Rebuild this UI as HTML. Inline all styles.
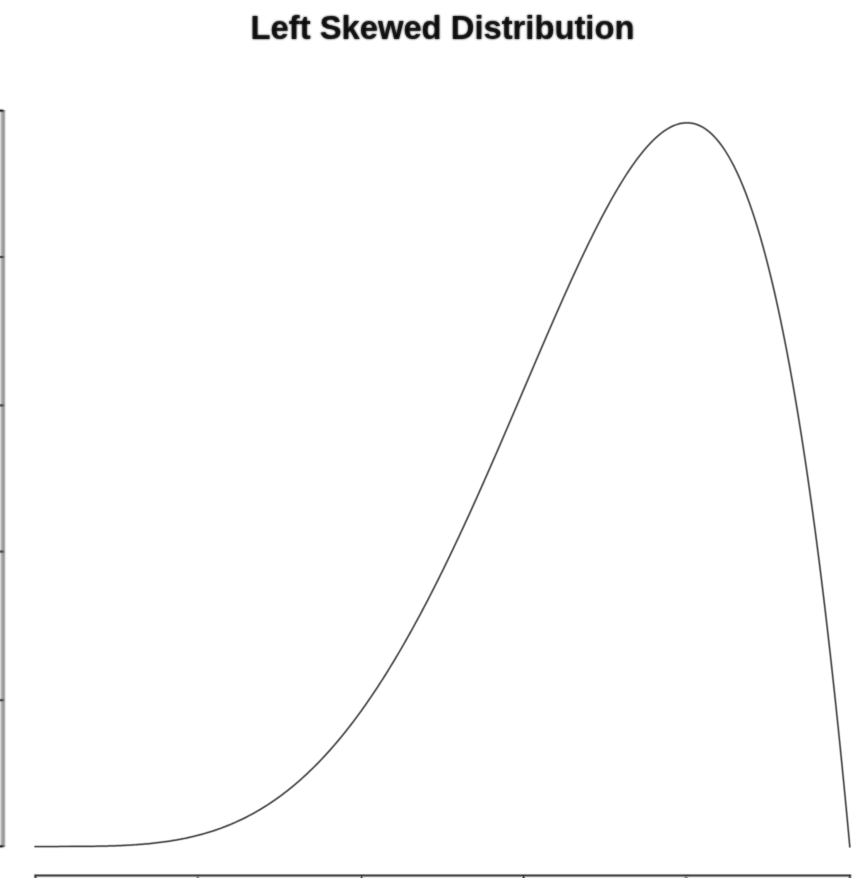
<!DOCTYPE html>
<html><head><meta charset="utf-8"><style>
html,body{margin:0;padding:0;background:#fff;}
body{width:859px;height:878px;overflow:hidden;position:relative;font-family:"Liberation Sans",sans-serif;}
.t{position:absolute;left:12.7px;width:859px;top:9.3px;text-align:center;font-weight:bold;font-size:32.75px;line-height:37px;color:#0c0c0c;will-change:transform;white-space:nowrap;letter-spacing:0px;transform:scaleY(1.015);transform-origin:50% 30.2px;}
#t1{filter:blur(0.8px);}
#t2{opacity:0.7;}
svg{position:absolute;left:0;top:0;}
</style></head><body>
<div class="t" id="t1"><span id="ts">Left Skewed Distribution</span></div>
<div class="t" id="t2">Left Skewed Distribution</div>
<svg width="859" height="878" viewBox="0 0 859 878">
<defs>
<linearGradient id="tg" x1="0" y1="0" x2="0" y2="1">
<stop offset="0" stop-color="#000" stop-opacity="0"/>
<stop offset="0.2" stop-color="#000" stop-opacity="0.22"/>
<stop offset="0.4" stop-color="#000" stop-opacity="1"/>
<stop offset="0.6" stop-color="#000" stop-opacity="1"/>
<stop offset="0.8" stop-color="#000" stop-opacity="0.22"/>
<stop offset="1" stop-color="#000" stop-opacity="0"/>
</linearGradient>
</defs>
<rect x="0" y="110.0" width="1" height="737.0" fill="#d9d9d9"/>
<rect x="1" y="110.0" width="1" height="737.0" fill="#b1b1b1"/>
<rect x="2" y="110.0" width="1" height="737.0" fill="#a4a4a4"/>
<rect x="3" y="110.0" width="1" height="737.0" fill="#989898"/>
<rect x="4" y="110.0" width="1" height="737.0" fill="#b4b4b4"/>
<rect x="5" y="110.0" width="1" height="737.0" fill="#e4e4e4"/>
<rect x="6" y="110.0" width="1" height="737.0" fill="#fcfcfc"/>
<rect x="0" y="843.90" width="1" height="5" fill="url(#tg)" opacity="0.780"/>
<rect x="1" y="843.90" width="1" height="5" fill="url(#tg)" opacity="0.767"/>
<rect x="2" y="843.90" width="1" height="5" fill="url(#tg)" opacity="0.598"/>
<rect x="3" y="843.90" width="1" height="5" fill="url(#tg)" opacity="0.377"/>
<rect x="4" y="843.90" width="1" height="5" fill="url(#tg)" opacity="0.104"/>
<rect x="5" y="843.90" width="1" height="5" fill="url(#tg)" opacity="0.026"/>
<rect x="0" y="697.70" width="1" height="5" fill="url(#tg)" opacity="0.600"/>
<rect x="1" y="697.70" width="1" height="5" fill="url(#tg)" opacity="0.590"/>
<rect x="2" y="697.70" width="1" height="5" fill="url(#tg)" opacity="0.460"/>
<rect x="3" y="697.70" width="1" height="5" fill="url(#tg)" opacity="0.290"/>
<rect x="4" y="697.70" width="1" height="5" fill="url(#tg)" opacity="0.080"/>
<rect x="5" y="697.70" width="1" height="5" fill="url(#tg)" opacity="0.020"/>
<rect x="0" y="549.10" width="1" height="5" fill="url(#tg)" opacity="0.600"/>
<rect x="1" y="549.10" width="1" height="5" fill="url(#tg)" opacity="0.590"/>
<rect x="2" y="549.10" width="1" height="5" fill="url(#tg)" opacity="0.460"/>
<rect x="3" y="549.10" width="1" height="5" fill="url(#tg)" opacity="0.290"/>
<rect x="4" y="549.10" width="1" height="5" fill="url(#tg)" opacity="0.080"/>
<rect x="5" y="549.10" width="1" height="5" fill="url(#tg)" opacity="0.020"/>
<rect x="0" y="402.90" width="1" height="5" fill="url(#tg)" opacity="0.600"/>
<rect x="1" y="402.90" width="1" height="5" fill="url(#tg)" opacity="0.590"/>
<rect x="2" y="402.90" width="1" height="5" fill="url(#tg)" opacity="0.460"/>
<rect x="3" y="402.90" width="1" height="5" fill="url(#tg)" opacity="0.290"/>
<rect x="4" y="402.90" width="1" height="5" fill="url(#tg)" opacity="0.080"/>
<rect x="5" y="402.90" width="1" height="5" fill="url(#tg)" opacity="0.020"/>
<rect x="0" y="254.50" width="1" height="5" fill="url(#tg)" opacity="0.600"/>
<rect x="1" y="254.50" width="1" height="5" fill="url(#tg)" opacity="0.590"/>
<rect x="2" y="254.50" width="1" height="5" fill="url(#tg)" opacity="0.460"/>
<rect x="3" y="254.50" width="1" height="5" fill="url(#tg)" opacity="0.290"/>
<rect x="4" y="254.50" width="1" height="5" fill="url(#tg)" opacity="0.080"/>
<rect x="5" y="254.50" width="1" height="5" fill="url(#tg)" opacity="0.020"/>
<rect x="0" y="108.10" width="1" height="5" fill="url(#tg)" opacity="0.780"/>
<rect x="1" y="108.10" width="1" height="5" fill="url(#tg)" opacity="0.767"/>
<rect x="2" y="108.10" width="1" height="5" fill="url(#tg)" opacity="0.598"/>
<rect x="3" y="108.10" width="1" height="5" fill="url(#tg)" opacity="0.377"/>
<rect x="4" y="108.10" width="1" height="5" fill="url(#tg)" opacity="0.104"/>
<rect x="5" y="108.10" width="1" height="5" fill="url(#tg)" opacity="0.026"/>
<g shape-rendering="crispEdges">
<rect x="38" y="873" width="157" height="1" fill="#f5f5f5"/>
<rect x="201" y="873" width="158" height="1" fill="#f5f5f5"/>
<rect x="364" y="873" width="157" height="1" fill="#f5f5f5"/>
<rect x="526" y="873" width="157" height="1" fill="#f5f5f5"/>
<rect x="689" y="873" width="158" height="1" fill="#f5f5f5"/>
<rect x="38" y="874" width="157" height="1" fill="#949494"/>
<rect x="201" y="874" width="158" height="1" fill="#949494"/>
<rect x="364" y="874" width="157" height="1" fill="#949494"/>
<rect x="526" y="874" width="157" height="1" fill="#949494"/>
<rect x="689" y="874" width="158" height="1" fill="#949494"/>
<rect x="38" y="875" width="157" height="1" fill="#474747"/>
<rect x="201" y="875" width="158" height="1" fill="#474747"/>
<rect x="364" y="875" width="157" height="1" fill="#474747"/>
<rect x="526" y="875" width="157" height="1" fill="#474747"/>
<rect x="689" y="875" width="158" height="1" fill="#474747"/>
<rect x="38" y="876" width="157" height="1" fill="#919191"/>
<rect x="201" y="876" width="158" height="1" fill="#919191"/>
<rect x="364" y="876" width="157" height="1" fill="#919191"/>
<rect x="526" y="876" width="157" height="1" fill="#919191"/>
<rect x="689" y="876" width="158" height="1" fill="#919191"/>
<rect x="38" y="877" width="157" height="1" fill="#e6e6e6"/>
<rect x="201" y="877" width="158" height="1" fill="#e6e6e6"/>
<rect x="364" y="877" width="157" height="1" fill="#e6e6e6"/>
<rect x="526" y="877" width="157" height="1" fill="#e6e6e6"/>
<rect x="689" y="877" width="158" height="1" fill="#e6e6e6"/>
<rect x="33" y="874" width="1" height="1" fill="#f1f1f1"/>
<rect x="33" y="875" width="1" height="1" fill="#e6e6e6"/>
<rect x="33" y="876" width="1" height="1" fill="#e7e7e7"/>
<rect x="33" y="877" width="1" height="1" fill="#e8e8e8"/>
<rect x="34" y="873" width="1" height="1" fill="#f9f9f9"/>
<rect x="34" y="874" width="1" height="1" fill="#bcbcbc"/>
<rect x="34" y="875" width="1" height="1" fill="#898989"/>
<rect x="34" y="876" width="1" height="1" fill="#8b8b8b"/>
<rect x="34" y="877" width="1" height="1" fill="#909090"/>
<rect x="35" y="873" width="1" height="1" fill="#f5f5f5"/>
<rect x="35" y="874" width="1" height="1" fill="#8f8f8f"/>
<rect x="35" y="875" width="1" height="1" fill="#393939"/>
<rect x="35" y="876" width="1" height="1" fill="#3c3c3c"/>
<rect x="35" y="877" width="1" height="1" fill="#454545"/>
<rect x="36" y="873" width="1" height="1" fill="#f5f5f5"/>
<rect x="36" y="874" width="1" height="1" fill="#919191"/>
<rect x="36" y="875" width="1" height="1" fill="#3e3e3e"/>
<rect x="36" y="876" width="1" height="1" fill="#7c7c7c"/>
<rect x="36" y="877" width="1" height="1" fill="#858585"/>
<rect x="37" y="873" width="1" height="1" fill="#f5f5f5"/>
<rect x="37" y="874" width="1" height="1" fill="#939393"/>
<rect x="37" y="875" width="1" height="1" fill="#444444"/>
<rect x="37" y="876" width="1" height="1" fill="#8e8e8e"/>
<rect x="37" y="877" width="1" height="1" fill="#d6d6d6"/>
<rect x="195" y="873" width="1" height="1" fill="#f5f5f5"/>
<rect x="195" y="874" width="1" height="1" fill="#949494"/>
<rect x="195" y="875" width="1" height="1" fill="#464646"/>
<rect x="195" y="876" width="1" height="1" fill="#909090"/>
<rect x="195" y="877" width="1" height="1" fill="#e4e4e4"/>
<rect x="196" y="873" width="1" height="1" fill="#f5f5f5"/>
<rect x="196" y="874" width="1" height="1" fill="#929292"/>
<rect x="196" y="875" width="1" height="1" fill="#424242"/>
<rect x="196" y="876" width="1" height="1" fill="#8a8a8a"/>
<rect x="196" y="877" width="1" height="1" fill="#b8b8b8"/>
<rect x="197" y="873" width="1" height="1" fill="#f5f5f5"/>
<rect x="197" y="874" width="1" height="1" fill="#919191"/>
<rect x="197" y="875" width="1" height="1" fill="#3d3d3d"/>
<rect x="197" y="876" width="1" height="1" fill="#6d6d6d"/>
<rect x="197" y="877" width="1" height="1" fill="#757575"/>
<rect x="198" y="873" width="1" height="1" fill="#f5f5f5"/>
<rect x="198" y="874" width="1" height="1" fill="#919191"/>
<rect x="198" y="875" width="1" height="1" fill="#3f3f3f"/>
<rect x="198" y="876" width="1" height="1" fill="#878787"/>
<rect x="198" y="877" width="1" height="1" fill="#969696"/>
<rect x="199" y="873" width="1" height="1" fill="#f5f5f5"/>
<rect x="199" y="874" width="1" height="1" fill="#939393"/>
<rect x="199" y="875" width="1" height="1" fill="#434343"/>
<rect x="199" y="876" width="1" height="1" fill="#8c8c8c"/>
<rect x="199" y="877" width="1" height="1" fill="#c9c9c9"/>
<rect x="200" y="873" width="1" height="1" fill="#f5f5f5"/>
<rect x="200" y="874" width="1" height="1" fill="#949494"/>
<rect x="200" y="875" width="1" height="1" fill="#464646"/>
<rect x="200" y="876" width="1" height="1" fill="#909090"/>
<rect x="200" y="877" width="1" height="1" fill="#e4e4e4"/>
<rect x="359" y="873" width="1" height="1" fill="#f5f5f5"/>
<rect x="359" y="874" width="1" height="1" fill="#949494"/>
<rect x="359" y="875" width="1" height="1" fill="#464646"/>
<rect x="359" y="876" width="1" height="1" fill="#909090"/>
<rect x="359" y="877" width="1" height="1" fill="#e4e4e4"/>
<rect x="360" y="873" width="1" height="1" fill="#f5f5f5"/>
<rect x="360" y="874" width="1" height="1" fill="#929292"/>
<rect x="360" y="875" width="1" height="1" fill="#404040"/>
<rect x="360" y="876" width="1" height="1" fill="#888888"/>
<rect x="360" y="877" width="1" height="1" fill="#a3a3a3"/>
<rect x="361" y="873" width="1" height="1" fill="#f5f5f5"/>
<rect x="361" y="874" width="1" height="1" fill="#909090"/>
<rect x="361" y="875" width="1" height="1" fill="#393939"/>
<rect x="361" y="876" width="1" height="1" fill="#444444"/>
<rect x="361" y="877" width="1" height="1" fill="#4d4d4d"/>
<rect x="362" y="873" width="1" height="1" fill="#f5f5f5"/>
<rect x="362" y="874" width="1" height="1" fill="#919191"/>
<rect x="362" y="875" width="1" height="1" fill="#3e3e3e"/>
<rect x="362" y="876" width="1" height="1" fill="#818181"/>
<rect x="362" y="877" width="1" height="1" fill="#8a8a8a"/>
<rect x="363" y="873" width="1" height="1" fill="#f5f5f5"/>
<rect x="363" y="874" width="1" height="1" fill="#939393"/>
<rect x="363" y="875" width="1" height="1" fill="#454545"/>
<rect x="363" y="876" width="1" height="1" fill="#8e8e8e"/>
<rect x="363" y="877" width="1" height="1" fill="#dedede"/>
<rect x="521" y="873" width="1" height="1" fill="#f5f5f5"/>
<rect x="521" y="874" width="1" height="1" fill="#939393"/>
<rect x="521" y="875" width="1" height="1" fill="#464646"/>
<rect x="521" y="876" width="1" height="1" fill="#8f8f8f"/>
<rect x="521" y="877" width="1" height="1" fill="#e3e3e3"/>
<rect x="522" y="873" width="1" height="1" fill="#f5f5f5"/>
<rect x="522" y="874" width="1" height="1" fill="#919191"/>
<rect x="522" y="875" width="1" height="1" fill="#3f3f3f"/>
<rect x="522" y="876" width="1" height="1" fill="#878787"/>
<rect x="522" y="877" width="1" height="1" fill="#919191"/>
<rect x="523" y="873" width="1" height="1" fill="#f5f5f5"/>
<rect x="523" y="874" width="1" height="1" fill="#8f8f8f"/>
<rect x="523" y="875" width="1" height="1" fill="#383838"/>
<rect x="523" y="876" width="1" height="1" fill="#333333"/>
<rect x="523" y="877" width="1" height="1" fill="#383838"/>
<rect x="524" y="873" width="1" height="1" fill="#f5f5f5"/>
<rect x="524" y="874" width="1" height="1" fill="#919191"/>
<rect x="524" y="875" width="1" height="1" fill="#3d3d3d"/>
<rect x="524" y="876" width="1" height="1" fill="#757575"/>
<rect x="524" y="877" width="1" height="1" fill="#7d7d7d"/>
<rect x="525" y="873" width="1" height="1" fill="#f5f5f5"/>
<rect x="525" y="874" width="1" height="1" fill="#939393"/>
<rect x="525" y="875" width="1" height="1" fill="#454545"/>
<rect x="525" y="876" width="1" height="1" fill="#8e8e8e"/>
<rect x="525" y="877" width="1" height="1" fill="#d9d9d9"/>
<rect x="683" y="873" width="1" height="1" fill="#f5f5f5"/>
<rect x="683" y="874" width="1" height="1" fill="#949494"/>
<rect x="683" y="875" width="1" height="1" fill="#464646"/>
<rect x="683" y="876" width="1" height="1" fill="#909090"/>
<rect x="683" y="877" width="1" height="1" fill="#e4e4e4"/>
<rect x="684" y="873" width="1" height="1" fill="#f5f5f5"/>
<rect x="684" y="874" width="1" height="1" fill="#929292"/>
<rect x="684" y="875" width="1" height="1" fill="#414141"/>
<rect x="684" y="876" width="1" height="1" fill="#898989"/>
<rect x="684" y="877" width="1" height="1" fill="#adadad"/>
<rect x="685" y="873" width="1" height="1" fill="#f5f5f5"/>
<rect x="685" y="874" width="1" height="1" fill="#919191"/>
<rect x="685" y="875" width="1" height="1" fill="#3e3e3e"/>
<rect x="685" y="876" width="1" height="1" fill="#7a7a7a"/>
<rect x="685" y="877" width="1" height="1" fill="#828282"/>
<rect x="686" y="873" width="1" height="1" fill="#f5f5f5"/>
<rect x="686" y="874" width="1" height="1" fill="#919191"/>
<rect x="686" y="875" width="1" height="1" fill="#3e3e3e"/>
<rect x="686" y="876" width="1" height="1" fill="#818181"/>
<rect x="686" y="877" width="1" height="1" fill="#8a8a8a"/>
<rect x="687" y="873" width="1" height="1" fill="#f5f5f5"/>
<rect x="687" y="874" width="1" height="1" fill="#929292"/>
<rect x="687" y="875" width="1" height="1" fill="#404040"/>
<rect x="687" y="876" width="1" height="1" fill="#898989"/>
<rect x="687" y="877" width="1" height="1" fill="#a6a6a6"/>
<rect x="688" y="873" width="1" height="1" fill="#f5f5f5"/>
<rect x="688" y="874" width="1" height="1" fill="#939393"/>
<rect x="688" y="875" width="1" height="1" fill="#444444"/>
<rect x="688" y="876" width="1" height="1" fill="#8e8e8e"/>
<rect x="688" y="877" width="1" height="1" fill="#d6d6d6"/>
<rect x="847" y="873" width="1" height="1" fill="#f5f5f5"/>
<rect x="847" y="874" width="1" height="1" fill="#939393"/>
<rect x="847" y="875" width="1" height="1" fill="#464646"/>
<rect x="847" y="876" width="1" height="1" fill="#8f8f8f"/>
<rect x="847" y="877" width="1" height="1" fill="#e3e3e3"/>
<rect x="848" y="873" width="1" height="1" fill="#f5f5f5"/>
<rect x="848" y="874" width="1" height="1" fill="#929292"/>
<rect x="848" y="875" width="1" height="1" fill="#414141"/>
<rect x="848" y="876" width="1" height="1" fill="#898989"/>
<rect x="848" y="877" width="1" height="1" fill="#a8a8a8"/>
<rect x="849" y="873" width="1" height="1" fill="#f5f5f5"/>
<rect x="849" y="874" width="1" height="1" fill="#909090"/>
<rect x="849" y="875" width="1" height="1" fill="#3a3a3a"/>
<rect x="849" y="876" width="1" height="1" fill="#4e4e4e"/>
<rect x="849" y="877" width="1" height="1" fill="#575757"/>
<rect x="850" y="873" width="1" height="1" fill="#f6f6f6"/>
<rect x="850" y="874" width="1" height="1" fill="#9f9f9f"/>
<rect x="850" y="875" width="1" height="1" fill="#555555"/>
<rect x="850" y="876" width="1" height="1" fill="#676767"/>
<rect x="850" y="877" width="1" height="1" fill="#6e6e6e"/>
<rect x="851" y="874" width="1" height="1" fill="#dedede"/>
<rect x="851" y="875" width="1" height="1" fill="#c5c5c5"/>
<rect x="851" y="876" width="1" height="1" fill="#cbcbcb"/>
<rect x="851" y="877" width="1" height="1" fill="#cecece"/>
<rect x="852" y="874" width="1" height="1" fill="#fafafa"/>
<rect x="852" y="875" width="1" height="1" fill="#f6f6f6"/>
<rect x="852" y="876" width="1" height="1" fill="#f7f7f7"/>
<rect x="852" y="877" width="1" height="1" fill="#f7f7f7"/>
</g>
<path d="M34.40,846.50 L35.60,846.50 L37.64,846.50 L39.67,846.50 L41.71,846.50 L43.74,846.50 L45.78,846.50 L47.81,846.50 L49.85,846.50 L51.88,846.50 L53.92,846.50 L55.95,846.50 L57.99,846.50 L60.03,846.49 L62.06,846.49 L64.10,846.49 L66.13,846.48 L68.17,846.48 L70.20,846.47 L72.24,846.47 L74.27,846.46 L76.31,846.45 L78.35,846.44 L80.38,846.42 L82.42,846.41 L84.45,846.39 L86.49,846.37 L88.52,846.35 L90.56,846.33 L92.59,846.30 L94.63,846.27 L96.66,846.24 L98.70,846.21 L100.74,846.17 L102.77,846.12 L104.81,846.08 L106.84,846.03 L108.88,845.97 L110.91,845.91 L112.95,845.85 L114.98,845.78 L117.02,845.70 L119.06,845.62 L121.09,845.54 L123.13,845.45 L125.16,845.35 L127.20,845.24 L129.23,845.13 L131.27,845.01 L133.30,844.89 L135.34,844.75 L137.38,844.61 L139.41,844.46 L141.45,844.30 L143.48,844.14 L145.52,843.96 L147.55,843.78 L149.59,843.58 L151.62,843.38 L153.66,843.16 L155.69,842.94 L157.73,842.70 L159.77,842.45 L161.80,842.19 L163.84,841.92 L165.87,841.64 L167.91,841.34 L169.94,841.03 L171.98,840.71 L174.01,840.38 L176.05,840.03 L178.08,839.66 L180.12,839.29 L182.16,838.90 L184.19,838.49 L186.23,838.07 L188.26,837.63 L190.30,837.17 L192.33,836.70 L194.37,836.22 L196.40,835.71 L198.44,835.19 L200.48,834.65 L202.51,834.10 L204.55,833.52 L206.58,832.93 L208.62,832.31 L210.65,831.68 L212.69,831.03 L214.72,830.36 L216.76,829.67 L218.79,828.95 L220.83,828.22 L222.87,827.46 L224.90,826.69 L226.94,825.89 L228.97,825.07 L231.01,824.22 L233.04,823.36 L235.08,822.47 L237.11,821.55 L239.15,820.62 L241.19,819.66 L243.22,818.67 L245.26,817.66 L247.29,816.63 L249.33,815.56 L251.36,814.48 L253.40,813.37 L255.43,812.23 L257.47,811.06 L259.50,809.87 L261.54,808.65 L263.58,807.40 L265.61,806.13 L267.65,804.83 L269.68,803.50 L271.72,802.14 L273.75,800.75 L275.79,799.33 L277.82,797.88 L279.86,796.41 L281.90,794.90 L283.93,793.37 L285.97,791.80 L288.00,790.20 L290.04,788.58 L292.07,786.92 L294.11,785.23 L296.14,783.51 L298.18,781.76 L300.22,779.97 L302.25,778.15 L304.29,776.30 L306.32,774.42 L308.36,772.51 L310.39,770.56 L312.43,768.58 L314.46,766.57 L316.50,764.52 L318.53,762.44 L320.57,760.33 L322.61,758.18 L324.64,756.00 L326.68,753.78 L328.71,751.53 L330.75,749.25 L332.78,746.93 L334.82,744.58 L336.85,742.19 L338.89,739.77 L340.93,737.31 L342.96,734.82 L345.00,732.29 L347.03,729.73 L349.07,727.13 L351.10,724.50 L353.14,721.83 L355.17,719.13 L357.21,716.39 L359.24,713.61 L361.28,710.80 L363.32,707.96 L365.35,705.08 L367.39,702.16 L369.42,699.21 L371.46,696.23 L373.49,693.21 L375.53,690.15 L377.56,687.06 L379.60,683.93 L381.63,680.77 L383.67,677.57 L385.71,674.34 L387.74,671.08 L389.78,667.78 L391.81,664.44 L393.85,661.07 L395.88,657.67 L397.92,654.23 L399.95,650.76 L401.99,647.25 L404.03,643.72 L406.06,640.14 L408.10,636.54 L410.13,632.90 L412.17,629.23 L414.20,625.53 L416.24,621.79 L418.27,618.02 L420.31,614.22 L422.34,610.39 L424.38,606.53 L426.42,602.64 L428.45,598.71 L430.49,594.76 L432.52,590.78 L434.56,586.76 L436.59,582.72 L438.63,578.65 L440.66,574.55 L442.70,570.42 L444.74,566.27 L446.77,562.09 L448.81,557.88 L450.84,553.64 L452.88,549.38 L454.91,545.10 L456.95,540.79 L458.98,536.45 L461.02,532.09 L463.06,527.71 L465.09,523.30 L467.13,518.87 L469.16,514.42 L471.20,509.95 L473.23,505.46 L475.27,500.95 L477.30,496.42 L479.34,491.87 L481.37,487.30 L483.41,482.72 L485.45,478.12 L487.48,473.50 L489.52,468.87 L491.55,464.22 L493.59,459.56 L495.62,454.88 L497.66,450.20 L499.69,445.50 L501.73,440.79 L503.76,436.07 L505.80,431.34 L507.84,426.61 L509.87,421.86 L511.91,417.11 L513.94,412.36 L515.98,407.60 L518.01,402.83 L520.05,398.06 L522.08,393.30 L524.12,388.52 L526.16,383.75 L528.19,378.98 L530.23,374.22 L532.26,369.45 L534.30,364.69 L536.33,359.94 L538.37,355.19 L540.40,350.45 L542.44,345.71 L544.47,340.99 L546.51,336.28 L548.55,331.58 L550.58,326.89 L552.62,322.22 L554.65,317.56 L556.69,312.92 L558.72,308.30 L560.76,303.69 L562.79,299.11 L564.83,294.55 L566.87,290.01 L568.90,285.50 L570.94,281.02 L572.97,276.56 L575.01,272.13 L577.04,267.73 L579.08,263.36 L581.11,259.02 L583.15,254.72 L585.19,250.46 L587.22,246.23 L589.26,242.05 L591.29,237.90 L593.33,233.80 L595.36,229.74 L597.40,225.72 L599.43,221.76 L601.47,217.84 L603.50,213.97 L605.54,210.16 L607.58,206.40 L609.61,202.69 L611.65,199.05 L613.68,195.46 L615.72,191.93 L617.75,188.47 L619.79,185.07 L621.82,181.74 L623.86,178.48 L625.89,175.28 L627.93,172.17 L629.97,169.12 L632.00,166.15 L634.04,163.26 L636.07,160.45 L638.11,157.73 L640.14,155.08 L642.18,152.53 L644.21,150.06 L646.25,147.69 L648.29,145.40 L650.32,143.22 L652.36,141.13 L654.39,139.14 L656.43,137.25 L658.46,135.47 L660.50,133.79 L662.53,132.22 L664.57,130.76 L666.61,129.42 L668.64,128.20 L670.68,127.09 L672.71,126.10 L674.75,125.24 L676.78,124.50 L678.82,123.89 L680.85,123.41 L682.89,123.07 L684.92,122.86 L686.96,122.79 L689.00,122.86 L691.03,123.07 L693.07,123.43 L695.10,123.95 L697.14,124.61 L699.17,125.43 L701.21,126.40 L703.24,127.54 L705.28,128.84 L707.31,130.31 L709.35,131.94 L711.39,133.75 L713.42,135.73 L715.46,137.89 L717.49,140.23 L719.53,142.76 L721.56,145.47 L723.60,148.37 L725.63,151.47 L727.67,154.76 L729.71,158.25 L731.74,161.94 L733.78,165.84 L735.81,169.95 L737.85,174.27 L739.88,178.81 L741.92,183.57 L743.95,188.54 L745.99,193.75 L748.02,199.18 L750.06,204.84 L752.10,210.75 L754.13,216.89 L756.17,223.27 L758.20,229.90 L760.24,236.78 L762.27,243.91 L764.31,251.31 L766.34,258.96 L768.38,266.88 L770.42,275.06 L772.45,283.52 L774.49,292.25 L776.52,301.26 L778.56,310.56 L780.59,320.14 L782.63,330.02 L784.66,340.19 L786.70,350.66 L788.74,361.43 L790.77,372.51 L792.81,383.90 L794.84,395.60 L796.88,407.63 L798.91,419.98 L800.95,432.65 L802.98,445.66 L805.02,459.00 L807.05,472.69 L809.09,486.72 L811.13,501.09 L813.16,515.82 L815.20,530.91 L817.23,546.36 L819.27,562.18 L821.30,578.36 L823.34,594.93 L825.37,611.87 L827.41,629.20 L829.44,646.91 L831.48,665.02 L833.52,683.53 L835.55,702.44 L837.59,721.76 L839.62,741.49 L841.66,761.64 L843.69,782.21 L845.73,803.20 L847.76,824.63 L849.80,846.50 L849.95,847.50" fill="none" stroke="#000" stroke-opacity="0.09" stroke-width="3.3" stroke-linejoin="round" stroke-linecap="butt"/>
<path d="M34.40,846.50 L35.60,846.50 L37.64,846.50 L39.67,846.50 L41.71,846.50 L43.74,846.50 L45.78,846.50 L47.81,846.50 L49.85,846.50 L51.88,846.50 L53.92,846.50 L55.95,846.50 L57.99,846.50 L60.03,846.49 L62.06,846.49 L64.10,846.49 L66.13,846.48 L68.17,846.48 L70.20,846.47 L72.24,846.47 L74.27,846.46 L76.31,846.45 L78.35,846.44 L80.38,846.42 L82.42,846.41 L84.45,846.39 L86.49,846.37 L88.52,846.35 L90.56,846.33 L92.59,846.30 L94.63,846.27 L96.66,846.24 L98.70,846.21 L100.74,846.17 L102.77,846.12 L104.81,846.08 L106.84,846.03 L108.88,845.97 L110.91,845.91 L112.95,845.85 L114.98,845.78 L117.02,845.70 L119.06,845.62 L121.09,845.54 L123.13,845.45 L125.16,845.35 L127.20,845.24 L129.23,845.13 L131.27,845.01 L133.30,844.89 L135.34,844.75 L137.38,844.61 L139.41,844.46 L141.45,844.30 L143.48,844.14 L145.52,843.96 L147.55,843.78 L149.59,843.58 L151.62,843.38 L153.66,843.16 L155.69,842.94 L157.73,842.70 L159.77,842.45 L161.80,842.19 L163.84,841.92 L165.87,841.64 L167.91,841.34 L169.94,841.03 L171.98,840.71 L174.01,840.38 L176.05,840.03 L178.08,839.66 L180.12,839.29 L182.16,838.90 L184.19,838.49 L186.23,838.07 L188.26,837.63 L190.30,837.17 L192.33,836.70 L194.37,836.22 L196.40,835.71 L198.44,835.19 L200.48,834.65 L202.51,834.10 L204.55,833.52 L206.58,832.93 L208.62,832.31 L210.65,831.68 L212.69,831.03 L214.72,830.36 L216.76,829.67 L218.79,828.95 L220.83,828.22 L222.87,827.46 L224.90,826.69 L226.94,825.89 L228.97,825.07 L231.01,824.22 L233.04,823.36 L235.08,822.47 L237.11,821.55 L239.15,820.62 L241.19,819.66 L243.22,818.67 L245.26,817.66 L247.29,816.63 L249.33,815.56 L251.36,814.48 L253.40,813.37 L255.43,812.23 L257.47,811.06 L259.50,809.87 L261.54,808.65 L263.58,807.40 L265.61,806.13 L267.65,804.83 L269.68,803.50 L271.72,802.14 L273.75,800.75 L275.79,799.33 L277.82,797.88 L279.86,796.41 L281.90,794.90 L283.93,793.37 L285.97,791.80 L288.00,790.20 L290.04,788.58 L292.07,786.92 L294.11,785.23 L296.14,783.51 L298.18,781.76 L300.22,779.97 L302.25,778.15 L304.29,776.30 L306.32,774.42 L308.36,772.51 L310.39,770.56 L312.43,768.58 L314.46,766.57 L316.50,764.52 L318.53,762.44 L320.57,760.33 L322.61,758.18 L324.64,756.00 L326.68,753.78 L328.71,751.53 L330.75,749.25 L332.78,746.93 L334.82,744.58 L336.85,742.19 L338.89,739.77 L340.93,737.31 L342.96,734.82 L345.00,732.29 L347.03,729.73 L349.07,727.13 L351.10,724.50 L353.14,721.83 L355.17,719.13 L357.21,716.39 L359.24,713.61 L361.28,710.80 L363.32,707.96 L365.35,705.08 L367.39,702.16 L369.42,699.21 L371.46,696.23 L373.49,693.21 L375.53,690.15 L377.56,687.06 L379.60,683.93 L381.63,680.77 L383.67,677.57 L385.71,674.34 L387.74,671.08 L389.78,667.78 L391.81,664.44 L393.85,661.07 L395.88,657.67 L397.92,654.23 L399.95,650.76 L401.99,647.25 L404.03,643.72 L406.06,640.14 L408.10,636.54 L410.13,632.90 L412.17,629.23 L414.20,625.53 L416.24,621.79 L418.27,618.02 L420.31,614.22 L422.34,610.39 L424.38,606.53 L426.42,602.64 L428.45,598.71 L430.49,594.76 L432.52,590.78 L434.56,586.76 L436.59,582.72 L438.63,578.65 L440.66,574.55 L442.70,570.42 L444.74,566.27 L446.77,562.09 L448.81,557.88 L450.84,553.64 L452.88,549.38 L454.91,545.10 L456.95,540.79 L458.98,536.45 L461.02,532.09 L463.06,527.71 L465.09,523.30 L467.13,518.87 L469.16,514.42 L471.20,509.95 L473.23,505.46 L475.27,500.95 L477.30,496.42 L479.34,491.87 L481.37,487.30 L483.41,482.72 L485.45,478.12 L487.48,473.50 L489.52,468.87 L491.55,464.22 L493.59,459.56 L495.62,454.88 L497.66,450.20 L499.69,445.50 L501.73,440.79 L503.76,436.07 L505.80,431.34 L507.84,426.61 L509.87,421.86 L511.91,417.11 L513.94,412.36 L515.98,407.60 L518.01,402.83 L520.05,398.06 L522.08,393.30 L524.12,388.52 L526.16,383.75 L528.19,378.98 L530.23,374.22 L532.26,369.45 L534.30,364.69 L536.33,359.94 L538.37,355.19 L540.40,350.45 L542.44,345.71 L544.47,340.99 L546.51,336.28 L548.55,331.58 L550.58,326.89 L552.62,322.22 L554.65,317.56 L556.69,312.92 L558.72,308.30 L560.76,303.69 L562.79,299.11 L564.83,294.55 L566.87,290.01 L568.90,285.50 L570.94,281.02 L572.97,276.56 L575.01,272.13 L577.04,267.73 L579.08,263.36 L581.11,259.02 L583.15,254.72 L585.19,250.46 L587.22,246.23 L589.26,242.05 L591.29,237.90 L593.33,233.80 L595.36,229.74 L597.40,225.72 L599.43,221.76 L601.47,217.84 L603.50,213.97 L605.54,210.16 L607.58,206.40 L609.61,202.69 L611.65,199.05 L613.68,195.46 L615.72,191.93 L617.75,188.47 L619.79,185.07 L621.82,181.74 L623.86,178.48 L625.89,175.28 L627.93,172.17 L629.97,169.12 L632.00,166.15 L634.04,163.26 L636.07,160.45 L638.11,157.73 L640.14,155.08 L642.18,152.53 L644.21,150.06 L646.25,147.69 L648.29,145.40 L650.32,143.22 L652.36,141.13 L654.39,139.14 L656.43,137.25 L658.46,135.47 L660.50,133.79 L662.53,132.22 L664.57,130.76 L666.61,129.42 L668.64,128.20 L670.68,127.09 L672.71,126.10 L674.75,125.24 L676.78,124.50 L678.82,123.89 L680.85,123.41 L682.89,123.07 L684.92,122.86 L686.96,122.79 L689.00,122.86 L691.03,123.07 L693.07,123.43 L695.10,123.95 L697.14,124.61 L699.17,125.43 L701.21,126.40 L703.24,127.54 L705.28,128.84 L707.31,130.31 L709.35,131.94 L711.39,133.75 L713.42,135.73 L715.46,137.89 L717.49,140.23 L719.53,142.76 L721.56,145.47 L723.60,148.37 L725.63,151.47 L727.67,154.76 L729.71,158.25 L731.74,161.94 L733.78,165.84 L735.81,169.95 L737.85,174.27 L739.88,178.81 L741.92,183.57 L743.95,188.54 L745.99,193.75 L748.02,199.18 L750.06,204.84 L752.10,210.75 L754.13,216.89 L756.17,223.27 L758.20,229.90 L760.24,236.78 L762.27,243.91 L764.31,251.31 L766.34,258.96 L768.38,266.88 L770.42,275.06 L772.45,283.52 L774.49,292.25 L776.52,301.26 L778.56,310.56 L780.59,320.14 L782.63,330.02 L784.66,340.19 L786.70,350.66 L788.74,361.43 L790.77,372.51 L792.81,383.90 L794.84,395.60 L796.88,407.63 L798.91,419.98 L800.95,432.65 L802.98,445.66 L805.02,459.00 L807.05,472.69 L809.09,486.72 L811.13,501.09 L813.16,515.82 L815.20,530.91 L817.23,546.36 L819.27,562.18 L821.30,578.36 L823.34,594.93 L825.37,611.87 L827.41,629.20 L829.44,646.91 L831.48,665.02 L833.52,683.53 L835.55,702.44 L837.59,721.76 L839.62,741.49 L841.66,761.64 L843.69,782.21 L845.73,803.20 L847.76,824.63 L849.80,846.50 L849.95,847.50" fill="none" stroke="#000" stroke-opacity="0.27" stroke-width="2.2" stroke-linejoin="round" stroke-linecap="butt"/>
<path d="M34.40,846.50 L35.60,846.50 L37.64,846.50 L39.67,846.50 L41.71,846.50 L43.74,846.50 L45.78,846.50 L47.81,846.50 L49.85,846.50 L51.88,846.50 L53.92,846.50 L55.95,846.50 L57.99,846.50 L60.03,846.49 L62.06,846.49 L64.10,846.49 L66.13,846.48 L68.17,846.48 L70.20,846.47 L72.24,846.47 L74.27,846.46 L76.31,846.45 L78.35,846.44 L80.38,846.42 L82.42,846.41 L84.45,846.39 L86.49,846.37 L88.52,846.35 L90.56,846.33 L92.59,846.30 L94.63,846.27 L96.66,846.24 L98.70,846.21 L100.74,846.17 L102.77,846.12 L104.81,846.08 L106.84,846.03 L108.88,845.97 L110.91,845.91 L112.95,845.85 L114.98,845.78 L117.02,845.70 L119.06,845.62 L121.09,845.54 L123.13,845.45 L125.16,845.35 L127.20,845.24 L129.23,845.13 L131.27,845.01 L133.30,844.89 L135.34,844.75 L137.38,844.61 L139.41,844.46 L141.45,844.30 L143.48,844.14 L145.52,843.96 L147.55,843.78 L149.59,843.58 L151.62,843.38 L153.66,843.16 L155.69,842.94 L157.73,842.70 L159.77,842.45 L161.80,842.19 L163.84,841.92 L165.87,841.64 L167.91,841.34 L169.94,841.03 L171.98,840.71 L174.01,840.38 L176.05,840.03 L178.08,839.66 L180.12,839.29 L182.16,838.90 L184.19,838.49 L186.23,838.07 L188.26,837.63 L190.30,837.17 L192.33,836.70 L194.37,836.22 L196.40,835.71 L198.44,835.19 L200.48,834.65 L202.51,834.10 L204.55,833.52 L206.58,832.93 L208.62,832.31 L210.65,831.68 L212.69,831.03 L214.72,830.36 L216.76,829.67 L218.79,828.95 L220.83,828.22 L222.87,827.46 L224.90,826.69 L226.94,825.89 L228.97,825.07 L231.01,824.22 L233.04,823.36 L235.08,822.47 L237.11,821.55 L239.15,820.62 L241.19,819.66 L243.22,818.67 L245.26,817.66 L247.29,816.63 L249.33,815.56 L251.36,814.48 L253.40,813.37 L255.43,812.23 L257.47,811.06 L259.50,809.87 L261.54,808.65 L263.58,807.40 L265.61,806.13 L267.65,804.83 L269.68,803.50 L271.72,802.14 L273.75,800.75 L275.79,799.33 L277.82,797.88 L279.86,796.41 L281.90,794.90 L283.93,793.37 L285.97,791.80 L288.00,790.20 L290.04,788.58 L292.07,786.92 L294.11,785.23 L296.14,783.51 L298.18,781.76 L300.22,779.97 L302.25,778.15 L304.29,776.30 L306.32,774.42 L308.36,772.51 L310.39,770.56 L312.43,768.58 L314.46,766.57 L316.50,764.52 L318.53,762.44 L320.57,760.33 L322.61,758.18 L324.64,756.00 L326.68,753.78 L328.71,751.53 L330.75,749.25 L332.78,746.93 L334.82,744.58 L336.85,742.19 L338.89,739.77 L340.93,737.31 L342.96,734.82 L345.00,732.29 L347.03,729.73 L349.07,727.13 L351.10,724.50 L353.14,721.83 L355.17,719.13 L357.21,716.39 L359.24,713.61 L361.28,710.80 L363.32,707.96 L365.35,705.08 L367.39,702.16 L369.42,699.21 L371.46,696.23 L373.49,693.21 L375.53,690.15 L377.56,687.06 L379.60,683.93 L381.63,680.77 L383.67,677.57 L385.71,674.34 L387.74,671.08 L389.78,667.78 L391.81,664.44 L393.85,661.07 L395.88,657.67 L397.92,654.23 L399.95,650.76 L401.99,647.25 L404.03,643.72 L406.06,640.14 L408.10,636.54 L410.13,632.90 L412.17,629.23 L414.20,625.53 L416.24,621.79 L418.27,618.02 L420.31,614.22 L422.34,610.39 L424.38,606.53 L426.42,602.64 L428.45,598.71 L430.49,594.76 L432.52,590.78 L434.56,586.76 L436.59,582.72 L438.63,578.65 L440.66,574.55 L442.70,570.42 L444.74,566.27 L446.77,562.09 L448.81,557.88 L450.84,553.64 L452.88,549.38 L454.91,545.10 L456.95,540.79 L458.98,536.45 L461.02,532.09 L463.06,527.71 L465.09,523.30 L467.13,518.87 L469.16,514.42 L471.20,509.95 L473.23,505.46 L475.27,500.95 L477.30,496.42 L479.34,491.87 L481.37,487.30 L483.41,482.72 L485.45,478.12 L487.48,473.50 L489.52,468.87 L491.55,464.22 L493.59,459.56 L495.62,454.88 L497.66,450.20 L499.69,445.50 L501.73,440.79 L503.76,436.07 L505.80,431.34 L507.84,426.61 L509.87,421.86 L511.91,417.11 L513.94,412.36 L515.98,407.60 L518.01,402.83 L520.05,398.06 L522.08,393.30 L524.12,388.52 L526.16,383.75 L528.19,378.98 L530.23,374.22 L532.26,369.45 L534.30,364.69 L536.33,359.94 L538.37,355.19 L540.40,350.45 L542.44,345.71 L544.47,340.99 L546.51,336.28 L548.55,331.58 L550.58,326.89 L552.62,322.22 L554.65,317.56 L556.69,312.92 L558.72,308.30 L560.76,303.69 L562.79,299.11 L564.83,294.55 L566.87,290.01 L568.90,285.50 L570.94,281.02 L572.97,276.56 L575.01,272.13 L577.04,267.73 L579.08,263.36 L581.11,259.02 L583.15,254.72 L585.19,250.46 L587.22,246.23 L589.26,242.05 L591.29,237.90 L593.33,233.80 L595.36,229.74 L597.40,225.72 L599.43,221.76 L601.47,217.84 L603.50,213.97 L605.54,210.16 L607.58,206.40 L609.61,202.69 L611.65,199.05 L613.68,195.46 L615.72,191.93 L617.75,188.47 L619.79,185.07 L621.82,181.74 L623.86,178.48 L625.89,175.28 L627.93,172.17 L629.97,169.12 L632.00,166.15 L634.04,163.26 L636.07,160.45 L638.11,157.73 L640.14,155.08 L642.18,152.53 L644.21,150.06 L646.25,147.69 L648.29,145.40 L650.32,143.22 L652.36,141.13 L654.39,139.14 L656.43,137.25 L658.46,135.47 L660.50,133.79 L662.53,132.22 L664.57,130.76 L666.61,129.42 L668.64,128.20 L670.68,127.09 L672.71,126.10 L674.75,125.24 L676.78,124.50 L678.82,123.89 L680.85,123.41 L682.89,123.07 L684.92,122.86 L686.96,122.79 L689.00,122.86 L691.03,123.07 L693.07,123.43 L695.10,123.95 L697.14,124.61 L699.17,125.43 L701.21,126.40 L703.24,127.54 L705.28,128.84 L707.31,130.31 L709.35,131.94 L711.39,133.75 L713.42,135.73 L715.46,137.89 L717.49,140.23 L719.53,142.76 L721.56,145.47 L723.60,148.37 L725.63,151.47 L727.67,154.76 L729.71,158.25 L731.74,161.94 L733.78,165.84 L735.81,169.95 L737.85,174.27 L739.88,178.81 L741.92,183.57 L743.95,188.54 L745.99,193.75 L748.02,199.18 L750.06,204.84 L752.10,210.75 L754.13,216.89 L756.17,223.27 L758.20,229.90 L760.24,236.78 L762.27,243.91 L764.31,251.31 L766.34,258.96 L768.38,266.88 L770.42,275.06 L772.45,283.52 L774.49,292.25 L776.52,301.26 L778.56,310.56 L780.59,320.14 L782.63,330.02 L784.66,340.19 L786.70,350.66 L788.74,361.43 L790.77,372.51 L792.81,383.90 L794.84,395.60 L796.88,407.63 L798.91,419.98 L800.95,432.65 L802.98,445.66 L805.02,459.00 L807.05,472.69 L809.09,486.72 L811.13,501.09 L813.16,515.82 L815.20,530.91 L817.23,546.36 L819.27,562.18 L821.30,578.36 L823.34,594.93 L825.37,611.87 L827.41,629.20 L829.44,646.91 L831.48,665.02 L833.52,683.53 L835.55,702.44 L837.59,721.76 L839.62,741.49 L841.66,761.64 L843.69,782.21 L845.73,803.20 L847.76,824.63 L849.80,846.50 L849.95,847.50" fill="none" stroke="#000" stroke-opacity="0.5" stroke-width="1.25" stroke-linejoin="round" stroke-linecap="butt"/>
</svg></body></html>
